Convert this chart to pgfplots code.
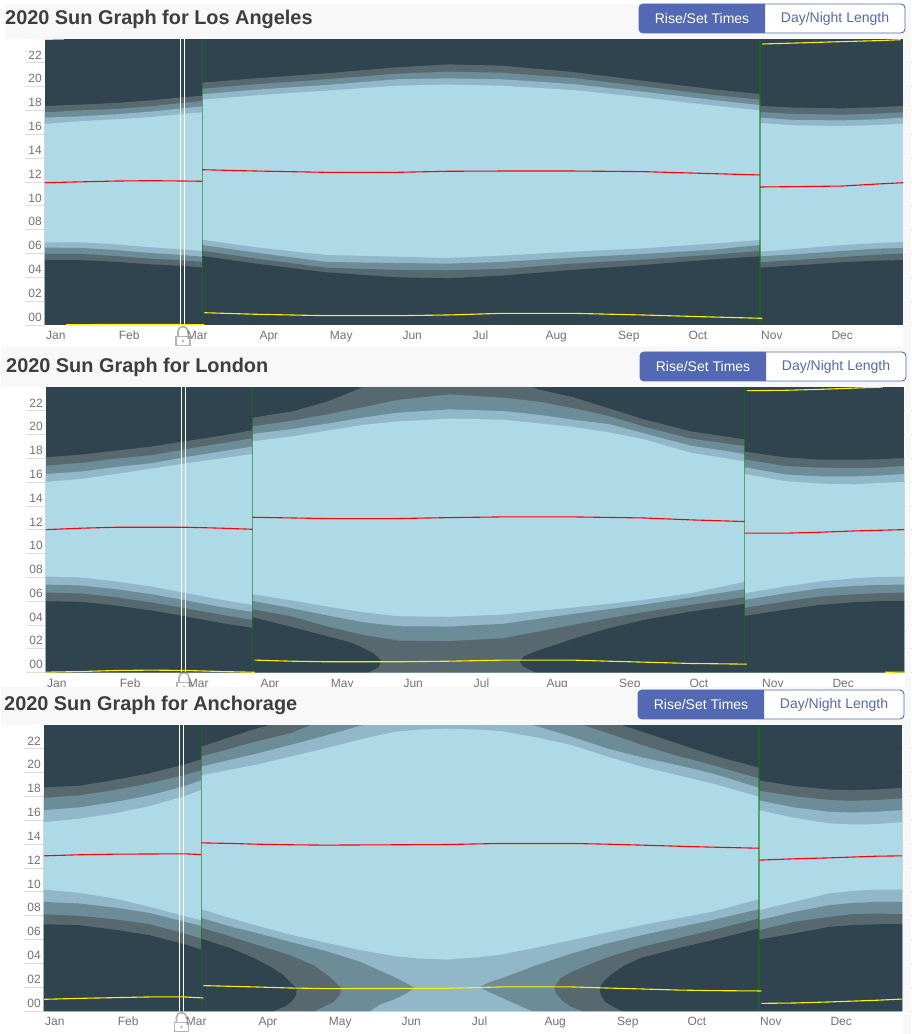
\documentclass[border=0pt]{standalone}
\usepackage{fontspec}
\setmainfont{Liberation Sans}
\usepackage{pgfplots}
\usepackage{pgfplotstable}
\pgfplotsset{compat=1.18}

\definecolor{night}{HTML}{2F444E}
\definecolor{astro}{HTML}{58686F}
\definecolor{naut}{HTML}{6C8C98}
\definecolor{civil}{HTML}{92B7C8}
\definecolor{day}{HTML}{AED9E7}
\definecolor{band}{HTML}{F8F8F8}
\definecolor{btn}{HTML}{5469B4}
\definecolor{lockc}{HTML}{B4B4B4}
\definecolor{titlec}{HTML}{3E3E3E}

% day a1..a4 = dawn edges, d4..d1 = dusk edges, hours; rows repeat at clock changes
\pgfplotstableread{
day a1 a2 a3 a4 d4 d3 d2 d1
0 5.45 5.96 6.49 6.94 16.87 17.40 17.85 18.38
15 5.45 5.96 6.47 6.94 17.10 17.51 18.01 18.49
30 5.31 5.79 6.29 6.77 17.26 17.68 18.13 18.63
45 5.09 5.57 6.04 6.52 17.45 17.90 18.35 18.85
60 4.95 5.40 5.85 6.32 17.73 18.21 18.66 19.13
67 4.81 5.29 5.73 6.21 17.85 18.35 18.80 19.24
67 5.79 6.24 6.71 7.16 18.91 19.36 19.83 20.34
90 5.15 5.57 6.07 6.52 19.27 19.75 20.20 20.70
120 4.42 4.81 5.29 5.87 19.66 20.14 20.62 21.12
150 4.00 4.62 5.20 5.73 20.08 20.62 21.09 21.62
172 3.92 4.59 5.15 5.62 20.17 20.70 21.26 21.87
195 4.14 4.70 5.29 5.82 20.08 20.62 21.17 21.76
225 4.62 5.15 5.65 6.15 19.72 20.22 20.73 21.23
255 5.03 5.48 5.96 6.43 19.10 19.58 20.03 20.50
285 5.51 5.90 6.32 6.83 18.41 18.88 19.30 19.78
305 5.76 6.21 6.71 7.13 18.01 18.46 18.91 19.38
305 4.81 5.26 5.76 6.15 16.95 17.40 17.87 18.38
320 5.00 5.45 5.93 6.38 16.76 17.20 17.71 18.24
340 5.26 5.71 6.21 6.71 16.70 17.17 17.65 18.18
355 5.40 5.90 6.41 6.88 16.78 17.26 17.73 18.27
366 5.45 5.99 6.46 6.96 16.90 17.40 17.85 18.38
}\tblLA

\pgfplotstableread{
day a2 a3 a4 d4 d3 d2 d1
0 6.72 7.39 8.06 16.02 16.69 17.39 18.09
15 6.64 7.31 7.98 16.27 16.89 17.61 18.31
30 6.33 7.00 7.65 16.69 17.28 17.98 18.65
45 5.88 6.58 7.22 17.14 17.59 18.26 18.99
60 5.38 6.05 6.66 17.59 18.12 18.79 19.46
75 4.84 5.49 6.10 18.01 18.59 19.27 19.91
88 4.42 5.10 5.68 18.37 18.99 19.69 20.36
88 5.32 6.02 6.58 19.43 20.05 20.69 21.42
105 4.70 5.40 6.05 19.85 20.47 21.17 21.95
120 3.86 4.79 5.54 20.33 20.92 21.70 22.77
135 3.16 4.23 5.07 20.81 21.42 22.29 23.97
150 2.69 3.89 4.73 21.11 21.84 22.91 25.00
172 2.63 3.86 4.68 21.34 22.12 23.38 25.80
195 2.88 4.09 4.87 21.25 21.98 23.10 25.00
210 3.44 4.51 5.18 20.95 21.67 22.77 23.80
225 4.00 4.93 5.46 20.64 21.25 22.21 23.13
240 4.56 5.32 5.77 20.19 20.89 21.56 22.21
255 5.07 5.71 6.10 19.60 20.11 20.67 21.28
275 5.68 6.30 6.66 18.48 19.07 19.66 20.27
298 6.33 7.00 7.62 17.75 18.37 19.04 19.60
298 5.43 6.10 6.66 16.69 17.25 17.92 18.57
315 5.96 6.64 7.22 16.10 16.66 17.36 18.09
330 6.38 7.06 7.65 15.88 16.49 17.22 17.89
345 6.58 7.28 7.92 15.82 16.49 17.17 17.89
355 6.66 7.36 8.04 15.93 16.55 17.22 17.92
366 6.72 7.39 8.06 16.02 16.69 17.36 18.03
}\tblLondon

\pgfplotstableread{
day a4 d4 d3 d2 d1
0 10.19 15.85 16.86 17.89 18.76
15 9.91 16.13 17.08 18.09 18.90
30 9.44 16.58 17.53 18.54 19.38
45 8.74 17.19 18.09 19.10 19.94
60 7.95 18.03 18.87 19.80 20.69
67 7.62 18.54 19.35 20.19 21.11
67 8.54 19.77 20.50 21.34 22.18
80 7.76 20.27 21.11 22.04 23.02
90 7.20 20.64 21.56 22.60 23.66
105 6.41 21.34 22.32 23.30 24.50
120 5.74 22.04 23.10 24.50 25.60
135 5.10 22.79 23.94 25.30 26.50
150 4.59 23.44 24.50 25.80 27.00
160 4.40 23.62 24.70 25.90 27.20
172 4.31 23.69 24.80 26.00 27.50
185 4.50 23.62 24.75 25.90 27.40
195 4.73 23.49 24.60 25.70 27.30
210 5.32 22.96 23.91 25.00 26.50
225 5.94 22.32 23.02 24.30 25.50
240 6.58 21.37 22.04 23.35 24.40
255 7.20 20.50 21.28 22.32 23.44
270 7.76 19.80 20.64 21.42 22.46
285 8.32 19.10 19.94 20.64 21.48
305 9.38 17.98 18.73 19.52 20.41
305 8.46 16.86 17.67 18.48 19.35
320 9.16 16.21 17.08 18.03 18.87
335 9.86 15.74 16.72 17.70 18.59
345 10.08 15.65 16.66 17.64 18.54
355 10.19 15.68 16.72 17.70 18.59
366 10.19 15.85 16.86 17.84 18.73
}\tblAnch

\pgfplotsset{
  sunaxis/.style={
    width=858pt, height=286pt, scale only axis,
    xmin=0, xmax=366, ymin=0, ymax=24,
    axis background/.style={fill=night},
    axis line style={draw=none},
    tick align=outside, major tick length=20pt,
    x tick style={draw=none},
    y tick style={draw=black!13, line width=0.8pt},
    xtick={0,31,60,91,121,152,182,213,244,274,305,335},
    xticklabels={Jan,Feb,Mar,Apr,May,Jun,Jul,Aug,Sep,Oct,Nov,Dec},
    ytick={0,2,...,22},
    yticklabels={00,02,04,06,08,10,12,14,16,18,20,22},
    tick label style={font=\fontsize{12}{12}\selectfont, text=black!55},
    xticklabel style={anchor=base west, inner xsep=0pt, xshift=1pt, yshift=5.5pt},
    yticklabel style={anchor=south east, inner xsep=0pt, inner ysep=1pt, xshift=17pt, yshift=2.5pt},
    /pgf/number format/assume math mode=true,
  },
  sunline/.style={line width=1.1pt},
}

\newcommand{\under}[3]{\addplot[fill=#1, draw=none] table[x=day, y=#3] {#2} \closedcycle;}
\newcommand{\dusks}[1]{\under{astro}{#1}{d1}\under{naut}{#1}{d2}\under{civil}{#1}{d3}\under{day}{#1}{d4}}
\newcommand{\locklines}{%
  \addplot[white, line width=0.9pt] coordinates {(57.8,0) (57.8,24)};
  \addplot[white, line width=0.9pt] coordinates {(59.5,0) (59.5,24)};}
\newcommand{\dst}[1]{\addplot[green!50!black, opacity=0.55, line width=1.1pt] coordinates {(#1,0) (#1,24)};}
\newcommand{\lockicon}[2]{% centre x, top y in picture pixels
  \draw[lockc, line width=1.7pt] (#1-7,1034-#2-9.5) rectangle (#1+7,1034-#2-18.5);
  \draw[lockc, line width=1.7pt] (#1-5,1034-#2-9.5) -- (#1-5,1034-#2-4.5) arc (180:0:5) -- (#1+5,1034-#2-6);
  \fill[lockc] (#1,1034-#2-14) circle (1.3);}
\newcommand{\header}[5]{% title x, title centre y, button left, top, title
  \node[anchor=west, inner sep=0pt, text=titlec, font=\bfseries\fontsize{19.9}{20}\selectfont] at (#1,1034-#2-1) {#5};
  \fill[white, rounded corners=4pt] (#3,1034-#4) rectangle (#3+266,1034-#4-29);
  \begin{scope}
    \clip (#3,1034-#4) rectangle (#3+126,1034-#4-29);
    \fill[btn, rounded corners=4pt] (#3,1034-#4) rectangle (#3+140,1034-#4-29);
  \end{scope}
  \draw[btn, line width=0.9pt, rounded corners=4pt] (#3,1034-#4) rectangle (#3+266,1034-#4-29);
  \node[text=white, font=\fontsize{14}{14}\selectfont] at (#3+63,1034-#4-14.5) {Rise/Set Times};
  \node[text=btn, font=\fontsize{14}{14}\selectfont] at (#3+196,1034-#4-14.5) {Day/Night Length};}

\begin{document}
\begin{tikzpicture}[x=1pt, y=1pt]
\path[use as bounding box] (0,0) rectangle (911,1034);
\fill[white] (0,0) rectangle (911,1034);
\coordinate (pLA) at (45,1034-325);
\coordinate (pLondon) at (46,1034-672.5);
\coordinate (pAnch) at (44,1034-1011);

% ---- Los Angeles
\lockicon{183}{327}
\begin{axis}[sunaxis, at={(pLA)}, anchor=south west]
\dusks{\tblLA}
\under{civil}{\tblLA}{a4}
\under{naut}{\tblLA}{a3}
\under{astro}{\tblLA}{a2}
\under{night}{\tblLA}{a1}
\locklines
\dst{67}
\dst{305}
\addplot[red, sunline] coordinates {(0,11.94) (30,12.08) (45,12.11) (60,12.08) (67,12.06)};
\addplot[red, sunline] coordinates {(67,13.03) (90,12.92) (120,12.81) (150,12.81) (172,12.90) (195,12.92) (225,12.92) (255,12.87) (285,12.70) (305,12.59)};
\addplot[red, sunline] coordinates {(305,11.58) (320,11.61) (340,11.66) (355,11.83) (366,11.94)};
\addplot[yellow, sunline] coordinates {(0,23.97) (8,24.0)};
\addplot[yellow, sunline] coordinates {(9,0.02) (30,0.05) (50,0.05) (68,0.02)};
\addplot[yellow, sunline] coordinates {(68,1.03) (90,0.90) (120,0.78) (150,0.78) (172,0.84) (195,0.98) (225,0.98) (255,0.84) (285,0.67) (306,0.56)};
\addplot[yellow, sunline] coordinates {(306,23.58) (320,23.66) (340,23.78) (355,23.86) (365,23.94)};
\end{axis}

% ---- London
\lockicon{184}{673}
\begin{axis}[sunaxis, at={(pLondon)}, anchor=south west, height=285.5pt]
\dusks{\tblLondon}
\under{civil}{\tblLondon}{a4}
\under{naut}{\tblLondon}{a3}
\under{astro}{\tblLondon}{a2}
\addplot[fill=night, draw=none] coordinates {(0,0) (0,5.99) (15,5.94) (30,5.63) (45,5.21) (60,4.70) (75,4.14) (88,3.75) (88,4.65) (105,3.81) (120,3.05) (131,2.46) (139.7,1.62) (142,1.20) (143,0.92) (141.8,0.45) (137.6,0)} --cycle;
\addplot[fill=night, draw=none] coordinates {(208.7,0) (203.7,0.50) (202,0.92) (203.7,1.34) (209.9,1.85) (225,2.83) (240,3.72) (255,4.42) (275,5.12) (298,5.77) (298,4.76) (315,5.26) (330,5.68) (345,5.91) (355,5.99) (366,5.99) (366,0)} --cycle;
\locklines
\dst{88}
\dst{298}
\addplot[red, sunline] coordinates {(0,12.01) (15,12.13) (30,12.21) (60,12.21) (75,12.13) (88,12.04)};
\addplot[red, sunline] coordinates {(88,13.05) (105,12.99) (120,12.94) (150,12.94) (172,13.02) (195,13.08) (225,13.08) (255,12.99) (275,12.83) (298,12.69)};
\addplot[red, sunline] coordinates {(298,11.71) (315,11.71) (330,11.79) (345,11.90) (366,12.01)};
\addplot[yellow, sunline] coordinates {(0,0.03) (15,0.08) (30,0.17) (45,0.20) (60,0.17) (75,0.08) (89,0.02)};
\addplot[yellow, sunline] coordinates {(89,1.04) (105,0.95) (120,0.90) (150,0.90) (172,0.95) (195,1.04) (225,1.04) (240,0.95) (255,0.87) (275,0.76) (299,0.70)};
\addplot[yellow, sunline] coordinates {(299,23.69) (315,23.72) (330,23.80) (345,23.91) (357,23.99)};
\addplot[yellow, sunline] coordinates {(358,0.02) (366,0.03)};
\end{axis}

% ---- Anchorage
\lockicon{181.5}{1013}
\begin{axis}[sunaxis, at={(pAnch)}, anchor=south west]
\dusks{\tblAnch}
\under{civil}{\tblAnch}{a4}
\addplot[fill=naut, draw=none] coordinates {(0,0) (0,9.16) (15,9.02) (30,8.68) (45,8.23) (60,7.48) (67,7.14) (67,7.81) (80,7.06) (90,6.58) (105,5.80) (120,5.04) (135,4.12) (150,2.80) (154.8,2.30) (158,1.96) (154.8,1.51) (149.1,0.95) (143.4,0.56) (139.1,0)} --cycle;
\addplot[fill=naut, draw=none] coordinates {(208.1,0) (200.3,0.67) (194.6,1.18) (188.9,1.68) (186,2.02) (190.3,2.44) (196,2.80) (210,3.84) (225,4.82) (240,5.66) (255,6.36) (270,7.00) (285,7.62) (305,8.54) (305,7.62) (320,8.32) (335,8.88) (345,9.07) (355,9.16) (366,9.16) (366,0)} --cycle;
\addplot[fill=astro, draw=none] coordinates {(0,0) (0,8.12) (15,7.98) (30,7.70) (45,7.28) (60,6.50) (67,6.08) (67,7.00) (80,6.22) (90,5.60) (105,4.68) (115,3.84) (122,2.86) (124.9,2.30) (127,1.88) (126,1.32) (123.5,0.76) (119.2,0.34) (115.6,0)} --cycle;
\addplot[fill=astro, draw=none] coordinates {(229.4,0) (224.5,0.39) (220.9,0.90) (218.5,1.46) (217.6,2.02) (220.2,2.72) (225,3.28) (240,4.48) (255,5.38) (270,6.08) (285,6.78) (305,7.76) (305,6.78) (320,7.48) (335,7.90) (345,8.12) (355,8.18) (366,8.12) (366,0)} --cycle;
\addplot[fill=night, draw=none] coordinates {(0,0) (0,7.28) (15,7.20) (30,6.83) (45,6.36) (60,5.60) (67,5.15) (67,6.08) (80,5.24) (90,4.40) (97.9,3.56) (102.1,3.00) (106.4,2.16) (107.8,1.88) (107.5,1.32) (105.7,0.81) (102.8,0.39) (97.9,0)} --cycle;
\addplot[fill=night, draw=none] coordinates {(246.5,0) (243,0.34) (239.4,0.76) (237.6,1.32) (237,1.88) (238,2.30) (241.5,3.00) (247.2,3.78) (255,4.48) (270,5.24) (285,5.94) (305,6.92) (305,5.99) (320,6.50) (335,7.06) (345,7.20) (355,7.28) (366,7.28) (366,0)} --cycle;
\locklines
\dst{67}
\dst{305}
\addplot[red, sunline] coordinates {(0,13.02) (15,13.11) (30,13.16) (60,13.19) (67,13.13)};
\addplot[red, sunline] coordinates {(67,14.11) (80,14.06) (90,14.00) (105,13.95) (120,13.92) (172,13.97) (195,14.06) (225,14.06) (240,14.00) (255,13.92) (270,13.83) (285,13.75) (305,13.66)};
\addplot[red, sunline] coordinates {(305,12.66) (320,12.77) (335,12.85) (355,12.99) (366,13.02)};
\addplot[yellow, sunline] coordinates {(0,0.98) (15,1.06) (30,1.12) (45,1.18) (60,1.18) (68,1.09)};
\addplot[yellow, sunline] coordinates {(68,2.13) (80,2.07) (90,2.02) (105,1.93) (120,1.88) (172,1.90) (195,2.02) (225,2.02) (240,1.93) (255,1.85) (270,1.76) (285,1.71) (306,1.68)};
\addplot[yellow, sunline] coordinates {(306,0.64) (320,0.67) (335,0.76) (355,0.90) (366,1.00)};
\end{axis}

% header bands and page margins
\fill[band] (5,1034-4) rectangle (911,1034-39);
\fill[band] (903,1034-39) rectangle (911,1034-347);
\fill[band] (1,1034-347) rectangle (911,1034-387);
\fill[band] (904.5,1034-387) rectangle (911,1034-687);
\fill[band] (1,1034-687) rectangle (911,1034-725);
\fill[band] (902.5,1034-725) rectangle (911,1034-1034);

\header{5}{18}{639}{4}{2020 Sun Graph for Los Angeles}
\header{6}{366}{640}{352}{2020 Sun Graph for London}
\header{4}{704}{638}{690}{2020 Sun Graph for Anchorage}
\end{tikzpicture}
\end{document}
